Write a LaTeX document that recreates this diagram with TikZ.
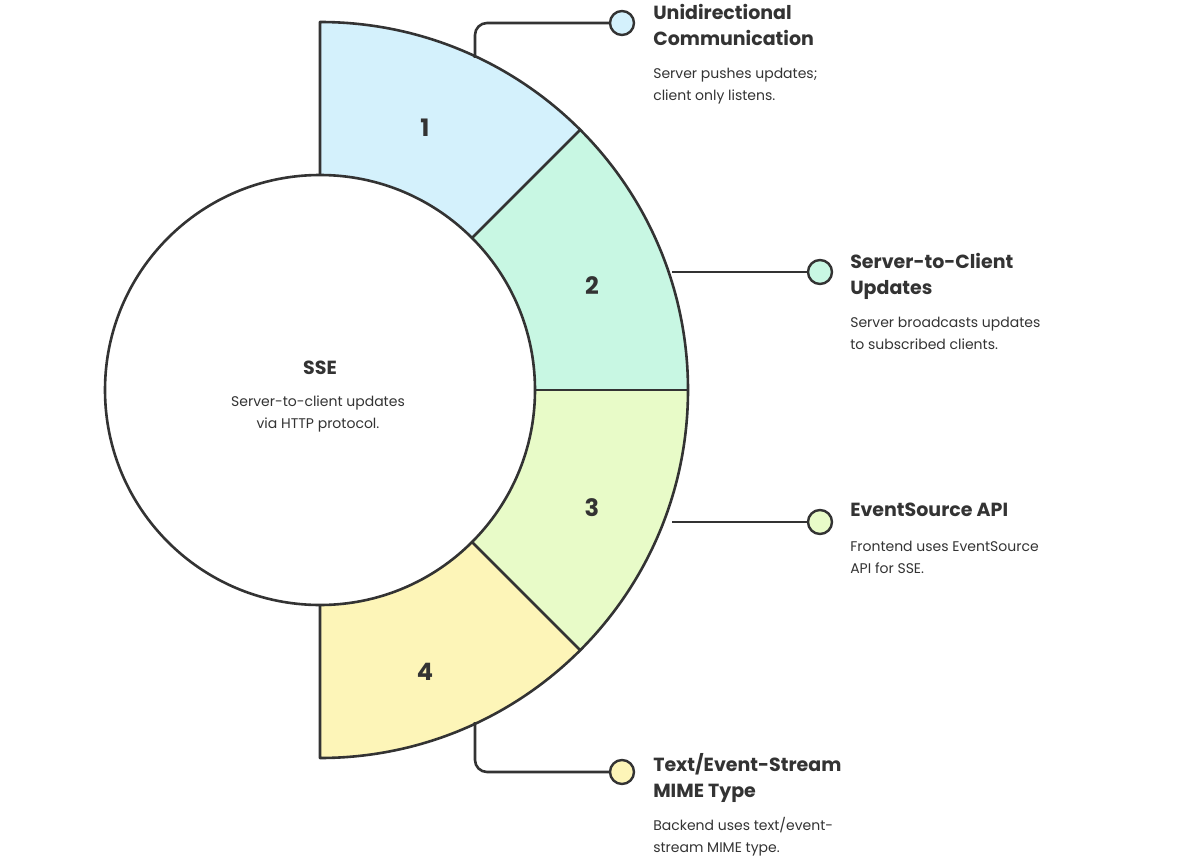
\documentclass[tikz,border=0pt]{standalone}
\usepackage{fontspec}
\setmainfont{Poppins}
\begin{document}
\begin{tikzpicture}[x=1pt,y=-1pt,line width=2.6pt,
  ln/.style={draw=black!80,line join=round},
  dot/.style={circle,draw=black!80,line width=2.4pt,minimum size=24pt,inner sep=0pt},
  ttl/.style={anchor=north west,align=left,font=\fontsize{19}{26}\selectfont\bfseries,text=black!80,inner sep=0pt},
  dsc/.style={anchor=north west,align=left,font=\fontsize{14}{22}\selectfont,text=black!80,inner sep=0pt},
  num/.style={font=\fontsize{24}{24}\selectfont\bfseries,text=black!80}]
\useasboundingbox (0,0) rectangle (1200,859);
\coordinate (c) at (320,390);
% segments
\fill[fill={rgb,255:red,212;green,241;blue,252}] (320,22) arc[start angle=-90,end angle=-45,radius=368] -- (472,238) arc[start angle=-45,end angle=-90,radius=215] -- cycle;
\fill[fill={rgb,255:red,200;green,247;blue,227}] (580,130) arc[start angle=-45,end angle=0,radius=368] -- (535,390) arc[start angle=0,end angle=-45,radius=215] -- cycle;
\fill[fill={rgb,255:red,232;green,251;blue,200}] (688,390) arc[start angle=0,end angle=45,radius=368] -- (472,542) arc[start angle=45,end angle=0,radius=215] -- cycle;
\fill[fill={rgb,255:red,253;green,245;blue,184}] (580,650) arc[start angle=45,end angle=90,radius=368] -- (320,605) arc[start angle=90,end angle=45,radius=215] -- cycle;
\draw[ln] (320,175) -- (320,22) arc[start angle=-90,end angle=90,radius=368] -- (320,605);
\draw[ln] (472,238) -- (580,130);
\draw[ln] (535,390) -- (688,390);
\draw[ln] (472,542) -- (580,650);
\node[circle,draw=black!80,line width=2.6pt,fill=white,minimum size=430pt,inner sep=0pt] (hub) at (c) {};
\node[font=\fontsize{19}{19}\selectfont\bfseries,text=black!80] (sse) at (320,368) {SSE};
\node[align=center,font=\fontsize{14}{22}\selectfont,text=black!80] (ssed) at (318,414) {Server-to-client updates\\via HTTP protocol.};
\node[num] (n1) at (425,128) {1};
\node[num] (n2) at (592,286) {2};
\node[num] (n3) at (592,508) {3};
\node[num] (n4) at (425,672) {4};
% dots
\node[dot,fill={rgb,255:red,212;green,241;blue,252}] (d1) at (622,23) {};
\node[dot,fill={rgb,255:red,200;green,247;blue,227}] (d2) at (820,272) {};
\node[dot,fill={rgb,255:red,232;green,251;blue,200}] (d3) at (820,522) {};
\node[dot,fill={rgb,255:red,253;green,245;blue,184}] (d4) at (622,772) {};
\coordinate (a1) at (475,58);
\coordinate (a2) at (672,272);
\coordinate (a3) at (672,522);
\coordinate (a4) at (475,722);
\draw[ln,rounded corners=12pt] (a1) |- (d1.west);
\draw[ln] (a2) -- (d2.west);
\draw[ln] (a3) -- (d3.west);
\draw[ln,rounded corners=12pt] (a4) |- (d4.west);
% texts
\node[ttl] (t1) at (652,3) {Unidirectional\\Communication};
\node[dsc] (s1) at (652,67) {Server pushes updates;\\client only listens.};
\node[ttl] (t2) at (849,252) {Server-to-Client\\Updates};
\node[dsc] (s2) at (849,316) {Server broadcasts updates\\to subscribed clients.};
\node[ttl] (t3) at (849,502) {EventSource API};
\node[dsc] (s3) at (849,540) {Frontend uses EventSource\\API for SSE.};
\node[ttl] (t4) at (652,752) {Text/Event-Stream\\MIME Type};
\node[dsc] (s4) at (652,816) {Backend uses text/event-\\stream MIME type.};
\end{tikzpicture}
\end{document}
